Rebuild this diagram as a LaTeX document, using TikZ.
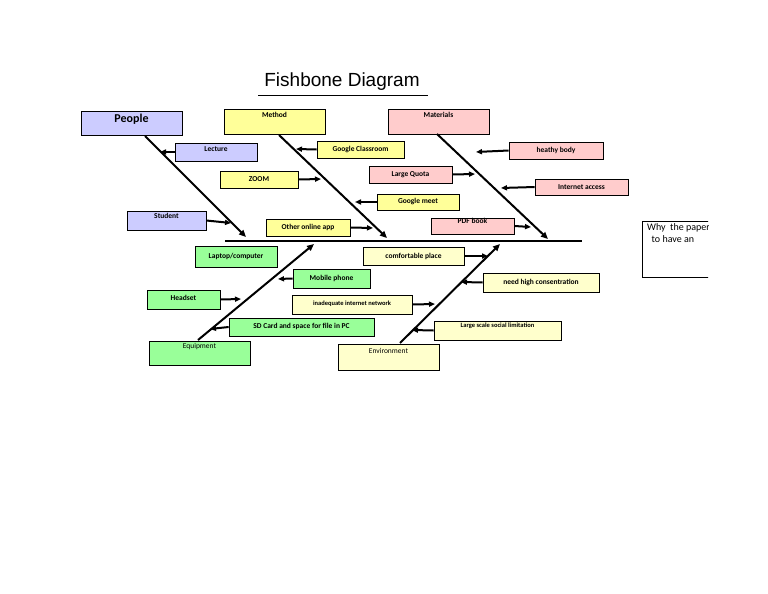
\documentclass[tikz,border=0pt]{standalone}
\usepackage{fontspec}
\setmainfont{Carlito}
\newfontfamily\titlefont{Liberation Sans}
\definecolor{lav}{RGB}{204,204,255}
\definecolor{yel}{RGB}{255,255,153}
\definecolor{pnk}{RGB}{255,204,204}
\definecolor{grn}{RGB}{153,255,153}
\definecolor{lyl}{RGB}{255,255,204}
\usetikzlibrary{arrows.meta}
\tikzset{bx/.style={draw=black,line width=0.7pt,inner sep=0pt},
 lb/.style={font=\fontsize{7.5}{8}\selectfont\bfseries,inner sep=0pt},
 bone/.style={line width=2pt,-{Triangle[length=7pt,width=6pt]}},
 sm/.style={line width=2pt,-{Triangle[length=6pt,width=5pt]}}}
% \bx{name}{x1}{y1}{x2}{y2}{color}{textdy}{text}
\newcommand\mybx[8]{\node[bx,fill=#6,minimum width={#4-#2},minimum height={#5-#3}] (#1) at ({(#2+#4)/2},{(#3+#5)/2}) {};
 \node[lb] (#1t) at ({(#2+#4)/2},{(#3+#5)/2+#7}) {#8};}
\begin{document}
\begin{tikzpicture}[x=1pt,y=-1pt]
\useasboundingbox (0,0) rectangle (768,594);
\fill[white] (0,0) rectangle (768,594);
\node[font=\titlefont\fontsize{19}{20}\selectfont] (title) at (342,82) {Fishbone Diagram};
\coordinate (ul1) at (258,95); \coordinate (ul2) at (428,95);
\draw[line width=0.6pt] (ul1) -- (ul2);
% main boxes
\node[bx,fill=lav,minimum width=101,minimum height=24] (people) at (131.5,123) {};
\node[font=\fontsize{12}{12}\selectfont\bfseries] (peoplet) at (131.5,119) {People};
\mybx{method}{224}{109}{325}{134}{yel}{-7}{Method}
\mybx{materials}{388}{109}{489}{134}{pnk}{-7}{Materials}
\mybx{lecture}{175}{143}{257}{161}{lav}{-3}{Lecture}
\mybx{gclass}{317}{141}{404}{158}{yel}{0}{Google Classroom}
\mybx{zoom}{220}{171}{298}{188}{yel}{0}{ZOOM}
\mybx{quota}{369}{166}{452}{183}{pnk}{0}{Large Quota}
\mybx{body}{509}{142}{603}{159}{pnk}{0}{heathy body}
\mybx{inet}{535}{179}{628}{195}{pnk}{0}{Internet access}
\mybx{gmeet}{377}{194}{459}{210}{yel}{0}{Google meet}
\mybx{student}{127}{211}{206}{230}{lav}{-5}{Student}
\mybx{other}{266}{219}{350}{236}{yel}{0}{Other online app}
\mybx{pdf}{431}{218}{514}{234}{pnk}{-5}{PDF book}
\mybx{laptop}{195}{246}{277}{267}{grn}{0}{Laptop/computer}
\mybx{comf}{363}{247}{464}{265}{lyl}{0}{comfortable place}
\mybx{mobile}{293}{269}{370}{288}{grn}{0}{Mobile phone}
\mybx{need}{483}{273}{599}{292}{lyl}{0}{need high consentration}
\mybx{headset}{147}{290}{220}{309}{grn}{-2}{Headset}
\mybx{inad}{292}{295}{412}{314}{lyl}{-1}{\fontsize{6.5}{7}\selectfont inadequate internet network}
\mybx{sd}{229}{318}{374}{336}{grn}{-1}{SD Card and space for file in PC}
\mybx{social}{434}{321}{561}{340}{lyl}{-5}{\fontsize{6.5}{7}\selectfont Large scale social limitation}
\mybx{equip}{149}{341}{250}{365}{grn}{-6}{\mdseries Equipment}
\mybx{env}{338}{344}{439}{370}{lyl}{-6}{\mdseries Environment}
% why box
\begin{scope}
\clip (0,0) rectangle (708,594);
\node[draw,line width=0.7pt,fill=white,minimum width=90,minimum height=56,inner sep=0pt] (why) at (687,249) {};
\node[anchor=north west,font=\fontsize{10}{12}\selectfont,align=left,inner sep=0pt] (whyt) at (647,223) {Why\ \ the paper\\\ \ to have an};
\end{scope}
% spine
\coordinate (s1) at (225,241); \coordinate (s2) at (582,241);
\draw[line width=2.5pt] (s1) -- (s2);
% bones
\coordinate (b1) at (246,237); \coordinate (b2) at (387,238); \coordinate (b3) at (548,239);
\coordinate (b4) at (314,244); \coordinate (b5) at (500,244);
\draw[bone] (145,136) -- (b1);
\draw[bone] (279,135) -- (b2);
\draw[bone] (437,134) -- (b3);
\draw[bone] (198,340) -- (b4);
\draw[bone] (400,343) -- (b5);
% small arrows
\coordinate (a1) at (160,152); \draw[sm] (lecture.west) -- (a1);
\coordinate (a2) at (296,149); \draw[sm] (gclass.west) -- (a2);
\coordinate (a3) at (321,179); \draw[sm] (zoom.east) -- (a3);
\coordinate (a4) at (475,174); \draw[sm] (quota.east) -- (a4);
\coordinate (a5) at (476,152); \draw[sm] (body.west) -- (a5);
\coordinate (a6) at (501,188); \draw[sm] (inet.west) -- (a6);
\coordinate (a7) at (355,202); \draw[sm] (gmeet.west) -- (a7);
\coordinate (a8) at (231,223); \draw[sm] (student.east) -- (a8);
\coordinate (a9) at (373,228); \draw[sm] (other.east) -- (a9);
\coordinate (a10) at (531,227); \draw[sm] (pdf.east) -- (a10);
\coordinate (a11) at (488,256); \draw[sm] (comf.east) -- (a11);
\coordinate (a12) at (278,279); \draw[sm] (mobile.west) -- (a12);
\coordinate (a13) at (461,282); \draw[sm] (need.west) -- (a13);
\coordinate (a14) at (241,299); \draw[sm] (headset.east) -- (a14);
\coordinate (a15) at (435,304); \draw[sm] (inad.east) -- (a15);
\coordinate (a16) at (210,329); \draw[sm] (sd.west) -- (a16);
\coordinate (a17) at (412,330); \draw[sm] (social.west) -- (a17);
\end{tikzpicture}
\end{document}
